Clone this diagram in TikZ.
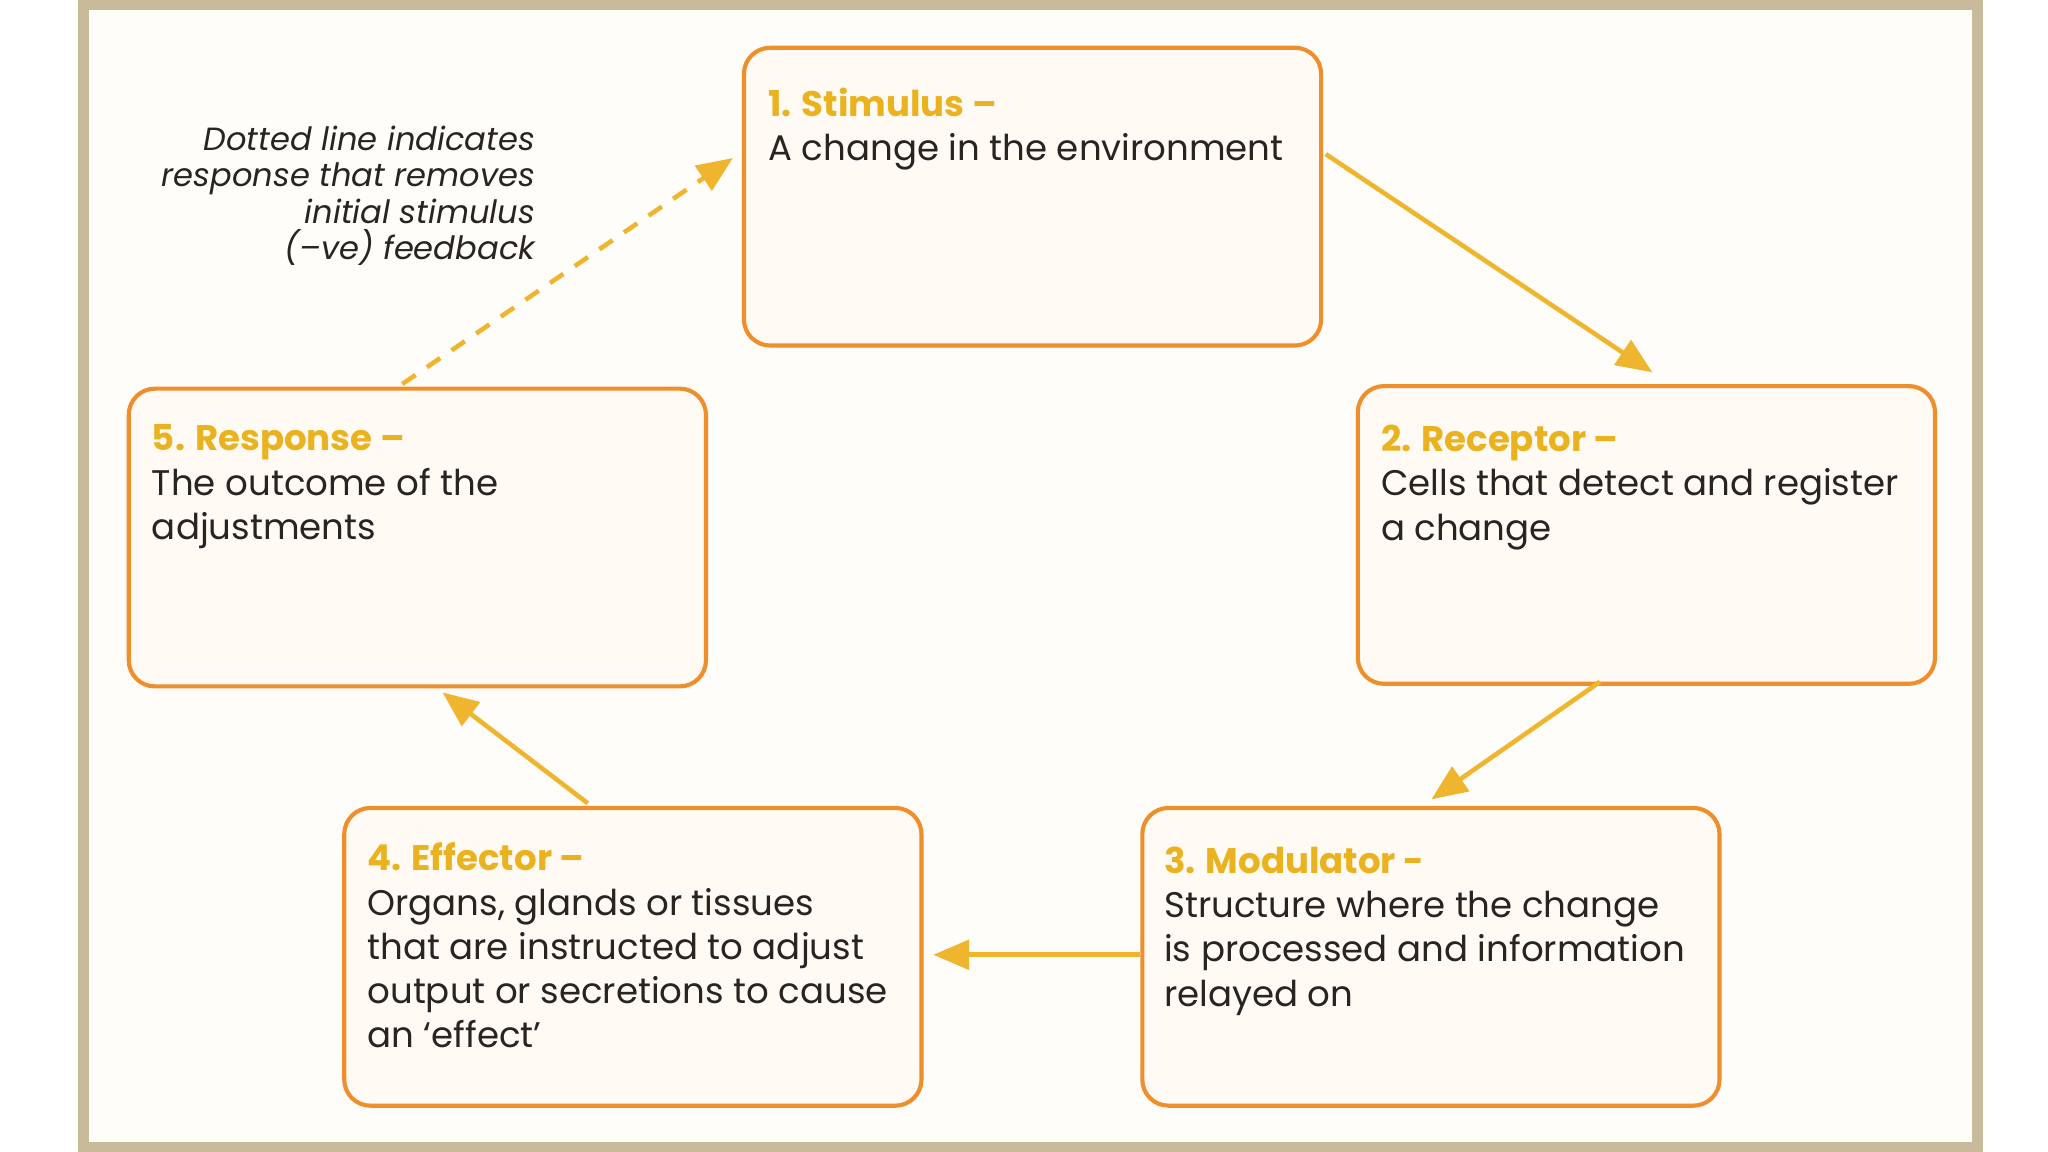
\documentclass[tikz,border=0pt]{standalone}
\usepackage{fontspec}
\setmainfont{Poppins}
\usetikzlibrary{arrows.meta}
\definecolor{frame}{HTML}{C9BA9C}
\definecolor{bg}{HTML}{FFFDF9}
\definecolor{boxline}{HTML}{EE8E2C}
\definecolor{boxfill}{HTML}{FFFAF3}
\definecolor{ttl}{HTML}{E9B21E}
\definecolor{arr}{HTML}{F0B52E}
\definecolor{txt}{HTML}{2A2420}
\tikzset{
  stage/.style={draw=boxline, line width=1.8pt, fill=boxfill, rounded corners=0.4cm, minimum width=8.84cm, minimum height=4.56cm, inner sep=0, anchor=north west},
  stagetext/.style={anchor=north west, align=left, inner sep=0, text=txt, font=\fontsize{15.5}{19.3}\selectfont},
  conn/.style={draw=arr, line width=2pt, -{Triangle[length=0.55cm,width=0.45cm]}, shorten >=2pt},
  note/.style={anchor=north east, align=right, inner sep=0, text=txt, font=\itshape\fontsize{14}{15.9}\selectfont}
}
\newcommand{\ttlc}[1]{\textcolor{ttl}{\textbf{#1}}}
\begin{document}
\begin{tikzpicture}[x=0.02cm,y=-0.02cm]
\useasboundingbox (0,0) rectangle (1568,882);
\fill[white] (0,0) rectangle (1568,882);
\fill[frame] (60,0) rectangle (1518,882);
\fill[bg] (68,8) rectangle (1510,874);
\node[stage] (s1) at (568,35) {};
\node[stage] (s2) at (1038,294) {};
\node[stage] (s3) at (873,617) {};
\node[stage] (s4) at (262,617) {};
\node[stage] (s5) at (97,296) {};
\node[stagetext] (t1) at (588,67) {\ttlc{1. Stimulus –}\\A change in the environment};
\node[stagetext] (t2) at (1057,325) {\ttlc{2. Receptor –}\\Cells that detect and register\\a change};
\node[stagetext] (t3) at (891,648) {\ttlc{3. Modulator -}\\Structure where the change\\is processed and information\\relayed on};
\node[stagetext] (t4) at (281,645) {\ttlc{4. Effector –}\\Organs, glands or tissues\\that are instructed to adjust\\output or secretions to cause\\an ‘effect’};
\node[stagetext] (t5) at (116,325) {\ttlc{5. Response –}\\The outcome of the\\adjustments};
\node[note] (n) at (410,96) {Dotted line indicates\\response that removes\\initial stimulus\\(–ve) feedback};
\coordinate (a1) at (1015,118); \coordinate (b1) at (1268,287);
\coordinate (a2) at (1225,522); \coordinate (b2) at (1093,614);
\coordinate (a3) at (873,731); \coordinate (b3) at (711,731);
\coordinate (a4) at (450,615); \coordinate (b4) at (336,528);
\coordinate (a5) at (308,294); \coordinate (b5) at (564,119);
\draw[conn] (a1) -- (b1);
\draw[conn] (a2) -- (b2);
\draw[conn] (a3) -- (b3);
\draw[conn] (a4) -- (b4);
\draw[conn, dashed, dash pattern=on 7pt off 6pt] (a5) -- (b5);
\end{tikzpicture}
\end{document}
